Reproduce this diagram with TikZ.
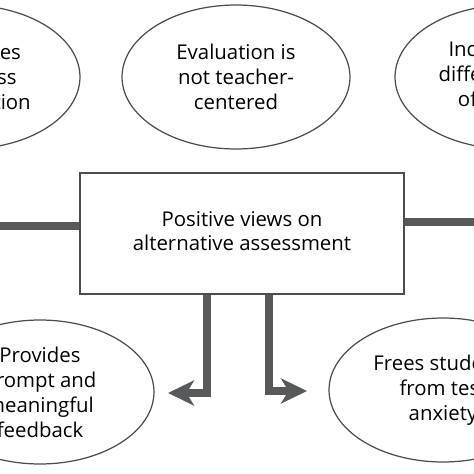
\documentclass[tikz,border=0pt]{standalone}
\usepackage{fontspec}
\setmainfont{Open Sans}
\usepackage{tikz}
\usetikzlibrary{shapes.geometric,arrows.meta,positioning,calc}
\usepackage{xcolor}
\definecolor{linegray}{HTML}{4D4D4F}
\definecolor{arrowgray}{HTML}{58595B}

\tikzset{
  viewbubble/.style={ellipse,draw=linegray,line width=0.7pt,minimum width=4.56cm,minimum height=2.88cm,
    inner sep=0pt,align=center,font=\fontsize{11.6}{14.2}\selectfont},
  viewbox/.style={rectangle,draw=linegray,line width=0.8pt,minimum width=6.48cm,minimum height=2.42cm,
    align=center,font=\fontsize{11.6}{14.2}\selectfont},
  thickline/.style={arrowgray,line width=4pt},
  thickarrow/.style={arrowgray,line width=4pt,-{Stealth[length=0.52cm,width=0.5cm,inset=0.15cm]}}
}

\begin{document}
\begin{tikzpicture}[x=0.02cm,y=-0.02cm]
\useasboundingbox (0,0) rectangle (474,474);
\clip (0,0) rectangle (474,474);
% top row
\node[viewbubble] (awareness) at (-34,77){Encourages\\awareness\\self-reflection};
\node[viewbubble] (evaluation) at (236,77){Evaluation is\\not teacher-\\centered};
\node[viewbubble] (styles) at (509,77){Incorporates\\different styles\\of learning};
% centre box
\node[viewbox] (views) at (242,233.5){\raisebox{5pt}{\begin{tabular}{@{}c@{}}Positive views on\\alternative assessment\end{tabular}}};
% bottom row
\node[viewbubble] (feedback) at (40,392){Provides\\prompt and\\meaningful\\feedback};
\node[viewbubble] (anxiety) at (443,390){Frees students\\from test\\anxiety};
% side lines
\coordinate (edgeL) at (0,226);
\coordinate (edgeR) at (474,222);
\draw[thickline] (edgeL) -- (edgeL -| views.west);
\draw[thickline] (views.east |- edgeR) -- (edgeR);
% arrows down
\coordinate (tipL) at (168,393);
\coordinate (elbowL) at (207,393);
\coordinate (tipR) at (307,391);
\coordinate (elbowR) at (269,391);
\draw[thickarrow] (views.south -| elbowL) |- (tipL);
\draw[thickarrow] (views.south -| elbowR) |- (tipR);
\end{tikzpicture}
\end{document}
